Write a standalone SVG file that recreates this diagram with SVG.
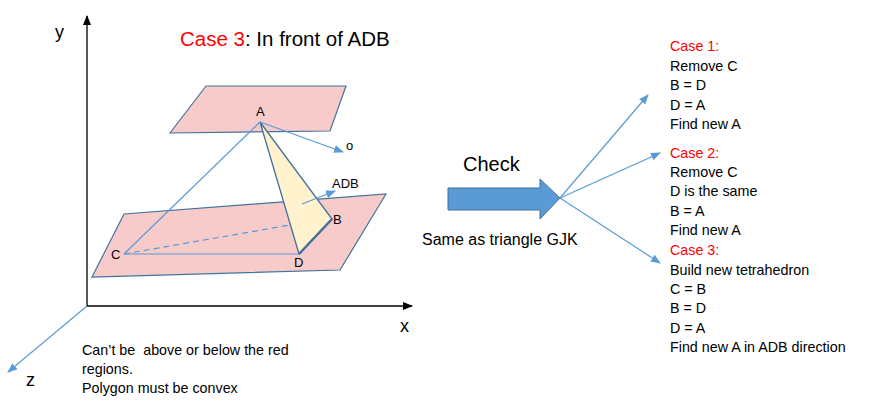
<svg xmlns="http://www.w3.org/2000/svg" width="870" height="404" viewBox="0 0 870 404">
<style>
text{font-family:"Liberation Sans",Arial,sans-serif;fill:#000}
.ax{stroke:#000;stroke-width:1.3;fill:none}
.bl{stroke:#5b9bd5;stroke-width:1.2;fill:none}
.pl{fill:#f8cbcb;stroke:#41719c;stroke-width:1.2}
.s{font-size:13px}
.c{font-size:14.3px}
.r{fill:#ff0000}
</style>
<defs>
<marker id="ah" markerWidth="10" markerHeight="8" refX="9" refY="4" orient="auto" markerUnits="userSpaceOnUse"><path d="M0,0L10,4L0,8z" fill="#5b9bd5"/></marker>
<marker id="ak" markerWidth="10" markerHeight="8" refX="9" refY="4" orient="auto" markerUnits="userSpaceOnUse"><path d="M0,0L10,4L0,8z" fill="#000"/></marker>
</defs>
<rect width="870" height="404" fill="#fff"/>
<g id="axes">
<line class="ax" x1="87" y1="306" x2="87" y2="16" marker-end="url(#ak)"/>
<line class="ax" x1="87" y1="306" x2="412" y2="306" marker-end="url(#ak)"/>
<line class="bl" x1="87" y1="306" x2="8" y2="372" marker-end="url(#ah)"/>
<text x="55" y="38" font-size="18">y</text>
<text x="400" y="332" font-size="18">x</text>
<text x="26" y="386" font-size="18">z</text>
</g>
<g id="planes">
<polygon class="pl" points="170,133 206,86 346,86 330,131"/>
<polygon class="pl" points="92,277 124,214 386,194 340,270"/>
</g>
<g id="tetra">
<polygon points="260,122 332,219 299,254" fill="#fff2cc" stroke="#41719c" stroke-width="1.3"/>
<line x1="299" y1="254" x2="332" y2="219" stroke="#41719c" stroke-width="2.5"/>
<line class="bl" x1="124" y1="254" x2="260" y2="122"/>
<line class="bl" x1="124" y1="254" x2="299" y2="254"/>
<line class="bl" x1="124" y1="254" x2="290" y2="225" stroke-dasharray="6,4"/>
<line class="bl" x1="260" y1="122" x2="343" y2="152" marker-end="url(#ah)"/>
<line class="bl" x1="302" y1="204" x2="335" y2="191" marker-end="url(#ah)"/>
<text x="256" y="116" class="s">A</text>
<text x="111" y="259" class="s">C</text>
<text x="294" y="267" class="s">D</text>
<text x="333" y="224" class="s">B</text>
<text x="346" y="150" class="s">o</text>
<text x="332" y="188" class="s">ADB</text>
</g>
<text x="180" y="46" font-size="20.5"><tspan class="r">Case 3</tspan>: In front of ADB</text>
<g id="check">
<polygon points="448,188 540,188 540,179 560,198 540,219 540,210 448,210" fill="#5b9bd5" stroke="#41719c"/>
<text x="463" y="171" font-size="20">Check</text>
<text x="422" y="245" font-size="16">Same as triangle GJK</text>
</g>
<g id="connectors">
<line class="bl" x1="560" y1="198" x2="648" y2="95" marker-end="url(#ah)"/>
<line class="bl" x1="560" y1="198" x2="660" y2="153" marker-end="url(#ah)"/>
<line class="bl" x1="560" y1="198" x2="660" y2="263" marker-end="url(#ah)"/>
</g>
<g id="cases">
<text x="670" y="51" class="c r">Case 1:</text>
<text x="670" y="71" class="c">Remove C</text>
<text x="670" y="90" class="c">B = D</text>
<text x="670" y="110" class="c">D = A</text>
<text x="670" y="129" class="c">Find new A</text>
<text x="670" y="158" class="c r">Case 2:</text>
<text x="670" y="177" class="c">Remove C</text>
<text x="670" y="196" class="c">D  is the same</text>
<text x="670" y="216" class="c">B = A</text>
<text x="670" y="235" class="c">Find new A</text>
<text x="670" y="255" class="c r">Case 3:</text>
<text x="670" y="275" class="c">Build new tetrahedron</text>
<text x="670" y="294" class="c">C = B</text>
<text x="670" y="313" class="c">B = D</text>
<text x="670" y="333" class="c">D = A</text>
<text x="670" y="352" class="c">Find new A in ADB direction</text>
</g>
<g id="notes">
<text x="82" y="355" class="c" xml:space="preserve">Can’t be  above or below the red</text>
<text x="82" y="374" class="c">regions.</text>
<text x="82" y="393" class="c">Polygon must be convex</text>
</g>
</svg>
